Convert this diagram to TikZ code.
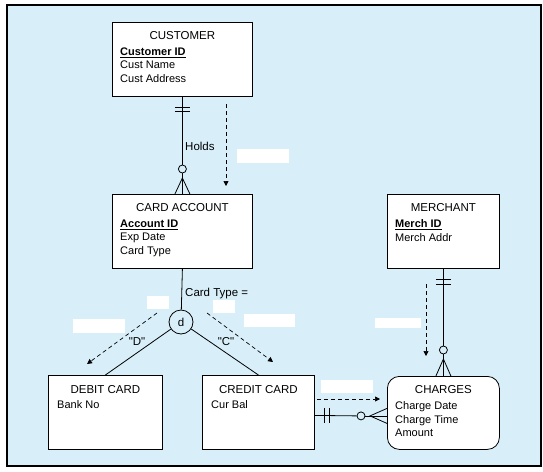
\documentclass[tikz,border=0pt]{standalone}
\usepackage{fontspec}
\newfontfamily\erfont{Liberation Sans}
\usepackage{tikz}
\usetikzlibrary{arrows.meta, positioning}

\definecolor{bgblue}{RGB}{216,239,250}

\begin{document}
\begin{tikzpicture}[x=1pt,y=-1pt,
	entity/.style={draw,fill=white,rectangle,anchor=north west,inner sep=0pt,line width=0.8pt},
	etitle/.style={inner sep=0pt,font=\erfont\fontsize{11.5}{13}\selectfont},
	eattr/.style={inner sep=0pt,align=left,anchor=north west,font=\erfont\fontsize{11}{13.5}\selectfont},
	rel/.style={line width=0.8pt},
	ring/.style={draw,circle,line width=0.8pt,minimum size=8pt,inner sep=0pt},
	flow/.style={dash pattern=on 4pt off 3pt,line width=0.7pt,-{Triangle[width=5pt,length=5pt]}},
	blank/.style={fill=white,draw=none}
]
	\useasboundingbox (0,0) rectangle (543,471);
	\draw[fill=bgblue,line width=1.2pt] (7,5) rectangle (541,466);

	% entities
	\node[entity,minimum width=140pt,minimum height=74pt] at (112,22) (cust) {};
	\node[etitle,below=9pt of cust.north] (custt) {CUSTOMER};
	\node[eattr,below right=25.5pt and 8pt of cust.north west] (custa) {\underline{\textbf{Customer ID}}\\Cust Name\\Cust Address};

	\node[entity,minimum width=140pt,minimum height=74pt] at (112,194) (acct) {};
	\node[etitle,below=9pt of acct.north] (acctt) {CARD ACCOUNT};
	\node[eattr,below right=25.5pt and 8pt of acct.north west] (accta) {\underline{\textbf{Account ID}}\\Exp Date\\Card Type};

	\node[entity,minimum width=112pt,minimum height=74pt] at (387,194) (merch) {};
	\node[etitle,below=9pt of merch.north] (mercht) {MERCHANT};
	\node[eattr,below right=25.5pt and 8pt of merch.north west] (mercha) {\underline{\textbf{Merch ID}}\\Merch Addr};

	\node[entity,minimum width=114pt,minimum height=74pt] at (48,375) (debit) {};
	\node[etitle,below=10pt of debit.north] (debitt) {DEBIT CARD};
	\node[eattr,below right=25.5pt and 9pt of debit.north west] (debita) {Bank No};

	\node[entity,minimum width=112pt,minimum height=74pt] at (202,375) (credit) {};
	\node[etitle,below=10pt of credit.north] (creditt) {CREDIT CARD};
	\node[eattr,below right=25.5pt and 9pt of credit.north west] (credita) {Cur Bal};

	\node[entity,rounded corners=12pt,minimum width=112pt,minimum height=73pt] at (387,376) (charges) {};
	\node[etitle,below=9.5pt of charges.north] (chargest) {CHARGES};
	\node[eattr,below right=25.5pt and 8pt of charges.north west] (chargesa) {Charge Date\\Charge Time\\Amount};

	% customer holds card account
	\node[ring] at ([yshift=25pt]acct.north) (o1) {};
	\draw[rel] (cust.south) -- (o1.north);
	\draw[rel] (o1.south) -- (acct.north);
	\draw[rel] ([xshift=-7.5pt,yshift=-11pt]cust.south) -- ([xshift=7.5pt,yshift=-11pt]cust.south);
	\draw[rel] ([xshift=-7.5pt,yshift=-15pt]cust.south) -- ([xshift=7.5pt,yshift=-15pt]cust.south);
	\draw[rel] ([xshift=-7.5pt]acct.north) -- ([yshift=16pt]acct.north) -- ([xshift=7.5pt]acct.north);
	\node[etitle,anchor=west] at (185,146) (holds) {Holds};

	% subtype
	\node[ring,minimum size=24pt,font=\erfont\fontsize{11.5}{13}\selectfont] at (181,322) (dis) {d};
	\draw[rel] (acct.south) -- (dis);
	\draw[rel] (dis) -- (debit.north);
	\draw[rel] (dis) -- (credit.north);
	\node[etitle,anchor=west] at (185,294) (ctype) {Card Type =};
	\node[etitle] at (137,342) (dlbl) {"D"};
	\node[etitle] at (226,342) (clbl) {"C"};

	% merchant to charges
	\node[ring] at ([yshift=26pt]charges.north) (o2) {};
	\draw[rel] (merch.south) -- (o2.north);
	\draw[rel] (o2.south) -- (charges.north);
	\draw[rel] ([xshift=-7.5pt,yshift=-11pt]merch.south) -- ([xshift=7.5pt,yshift=-11pt]merch.south);
	\draw[rel] ([xshift=-7.5pt,yshift=-16pt]merch.south) -- ([xshift=7.5pt,yshift=-16pt]merch.south);
	\draw[rel] ([xshift=-7.5pt]charges.north) -- ([yshift=17pt]charges.north) -- ([xshift=7.5pt]charges.north);

	% credit card to charges
	\coordinate (ce) at ([yshift=-3pt]credit.east);
	\coordinate (cw) at ([yshift=-3pt]charges.west);
	\node[ring] at ([xshift=-26pt]cw) (o3) {};
	\draw[rel] (ce) -- (o3.west);
	\draw[rel] (o3.east) -- (cw);
	\draw[rel] ([xshift=10pt,yshift=7.5pt]ce) -- ([xshift=10pt,yshift=-7.5pt]ce);
	\draw[rel] ([xshift=15pt,yshift=7.5pt]ce) -- ([xshift=15pt,yshift=-7.5pt]ce);
	\draw[rel] ([yshift=7.5pt]cw) -- ([xshift=-17pt]cw) -- ([yshift=-7.5pt]cw);

	% flows
	\coordinate (f1a) at (226,104); \coordinate (f1b) at (226,186);
	\coordinate (f2a) at (157,313); \coordinate (f2b) at (87,364);
	\coordinate (f3a) at (207,313); \coordinate (f3b) at (273,362);
	\coordinate (f4a) at (426,284); \coordinate (f4b) at (426,356);
	\coordinate (f5a) at (317,399); \coordinate (f5b) at (380,399);
	\draw[flow] (f1a) -- (f1b);
	\draw[flow] (f2a) -- (f2b);
	\draw[flow] (f3a) -- (f3b);
	\draw[flow] (f4a) -- (f4b);
	\draw[flow] (f5a) -- (f5b);

	% blank tags
	\fill[blank] (237,149) rectangle (289,163);
	\fill[blank] (147,296) rectangle (169,309);
	\fill[blank] (213,300) rectangle (235,313);
	\fill[blank] (244,314) rectangle (295,327);
	\fill[blank] (73,319) rectangle (125,333);
	\fill[blank] (375,318) rectangle (421,328);
	\fill[blank] (321,380) rectangle (373,393);
\end{tikzpicture}
\end{document}
